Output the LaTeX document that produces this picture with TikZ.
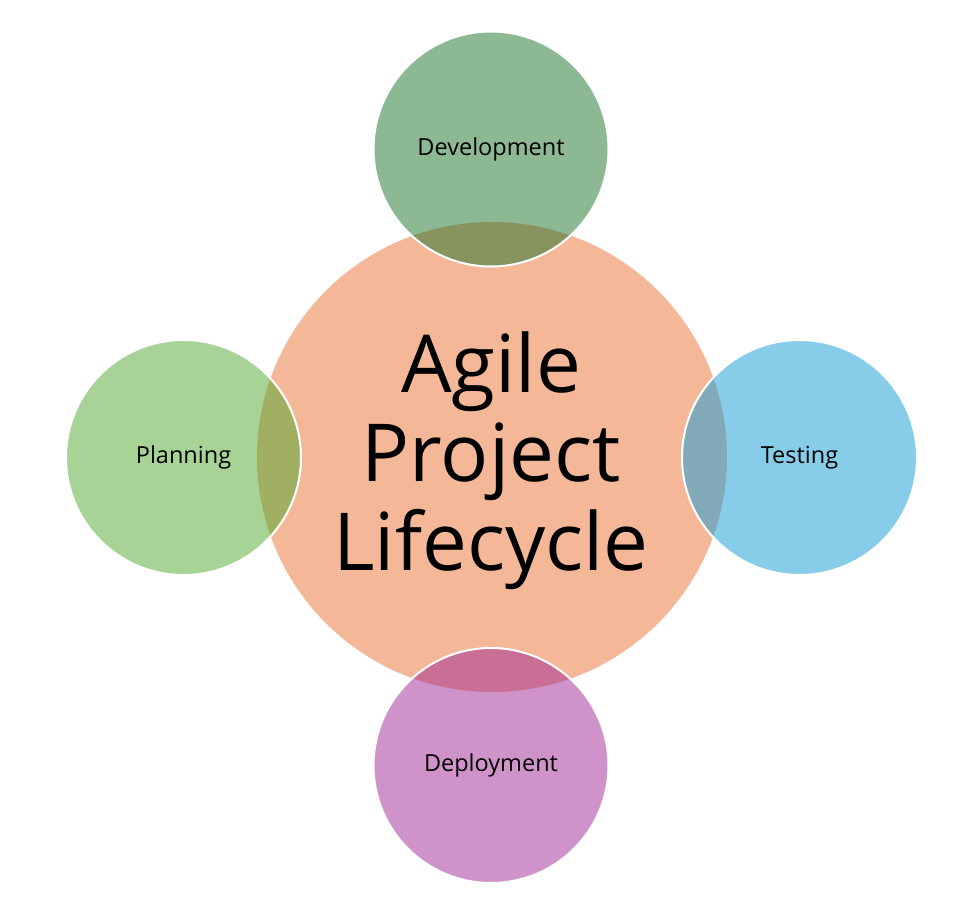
\documentclass[tikz,border=0pt]{standalone}
\usepackage{fontspec}
\setmainfont{Open Sans}
\definecolor{hubc}{RGB}{244,184,153}
\definecolor{devc}{RGB}{27,113,41}
\definecolor{planc}{RGB}{79,167,45}
\definecolor{testc}{RGB}{15,155,213}
\definecolor{depc}{RGB}{159,39,147}
\begin{document}
\begin{tikzpicture}[x=1pt,y=-1pt,
  hub/.style={circle,fill=hubc,minimum size=470pt,inner sep=0pt,align=center,font=\fontsize{80}{89}\selectfont},
  petal/.style={circle,draw=white,line width=2pt,fill opacity=0.5,text opacity=1,minimum size=235pt,inner sep=0pt,font=\fontsize{23.5}{28}\selectfont}]
\useasboundingbox (0,0) rectangle (975,918);
\node[hub] (hub) at (492,457) {};
\node[align=center,font=\fontsize{80}{89}\selectfont] (title) at (491,461) {Agile\\Project\\Lifecycle};
\node[petal,fill=devc] (dev) at (491,149) {Development};
\node[petal,fill=planc] (plan) at (183.5,457.5) {Planning};
\node[petal,fill=testc] (test) at (799.5,457.5) {Testing};
\node[petal,fill=depc] (dep) at (491,765.5) {Deployment};
\end{tikzpicture}
\end{document}
